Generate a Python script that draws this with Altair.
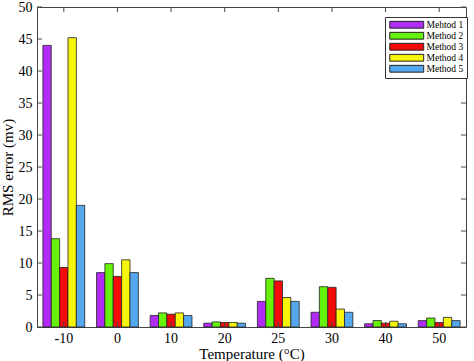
import altair as alt
import pandas as pd

temps = ["-10", "0", "10", "20", "25", "30", "40", "50"]
methods = ["Mehtod 1", "Method 2", "Method 3", "Method 4", "Method 5"]
m1 = [44.0, 8.5, 1.8, 0.6, 4.0, 2.3, 0.5, 1.0]
m2 = [13.8, 9.9, 2.2, 0.8, 7.6, 6.3, 1.0, 1.4]
m3 = [9.3, 7.9, 2.0, 0.7, 7.2, 6.2, 0.6, 0.7]
m4 = [45.2, 10.5, 2.2, 0.7, 4.6, 2.8, 0.9, 1.5]
m5 = [19.0, 8.5, 1.8, 0.6, 4.0, 2.3, 0.5, 1.0]
colors = ["#b12cf7", "#66f20a", "#f50a0a", "#f7f50a", "#55a8ee"]
y_ticks = list(range(0, 51, 5))

rows = []
for m, vals in zip(methods, [m1, m2, m3, m4, m5]):
    for t, v in zip(temps, vals):
        rows.append({"T": t, "Method": m, "v": v})
df = pd.DataFrame(rows)

FONT = "Liberation Serif"

xscale = alt.Scale(domain=temps, paddingInner=0.22, paddingOuter=0.11)
yscale = alt.Scale(domain=[0, 50], nice=False)

bars = alt.Chart(df).mark_bar(stroke="#222222", strokeWidth=0.8).encode(
    x=alt.X("T:N", sort=temps, scale=xscale,
            axis=alt.Axis(title="Temperature (°C)", labelAngle=0, ticks=False,
                          domain=False, labelPadding=4, titlePadding=1)),
    xOffset=alt.XOffset("Method:N", sort=methods, scale=alt.Scale(paddingInner=0, paddingOuter=0)),
    y=alt.Y("v:Q", scale=yscale,
            axis=alt.Axis(title="RMS error (mv)", values=y_ticks, ticks=False, domain=False,
                          grid=False, labelPadding=5, titlePadding=3)),
    color=alt.Color("Method:N", sort=methods,
                    scale=alt.Scale(domain=methods, range=colors),
                    legend=alt.Legend(title=None, orient="none", legendX=348, legendY=10,
                                      fillColor="white", strokeColor="#333333",
                                      padding=3, rowPadding=-2,
                                      symbolType="M-5,-1L5,-1L5,1L-5,1Z",
                                      symbolSize=46, symbolStrokeColor="#222222",
                                      symbolStrokeWidth=1, symbolOpacity=1,
                                      symbolOffset=14,
                                      labelFont=FONT, labelFontSize=9.5, labelColor="black",
                                      labelOffset=15)),
)

ydf = pd.DataFrame({"y": y_ticks})
xdf = pd.DataFrame({"T": temps})

ltick = alt.Chart(ydf).mark_rule(color="#444444", strokeWidth=1).encode(
    y=alt.Y("y:Q", scale=yscale, axis=None), x=alt.value(0), x2=alt.value(5))
rtick = alt.Chart(ydf).mark_rule(color="#444444", strokeWidth=1).encode(
    y=alt.Y("y:Q", scale=yscale, axis=None),
    x=alt.value({"expr": "width - 5"}), x2=alt.value("width"))
ttick = alt.Chart(xdf).mark_rule(color="#444444", strokeWidth=1).encode(
    x=alt.X("T:N", sort=temps, scale=xscale, axis=None), y=alt.value(0), y2=alt.value(5))
btick = alt.Chart(xdf).mark_rule(color="#444444", strokeWidth=1).encode(
    x=alt.X("T:N", sort=temps, scale=xscale, axis=None),
    y=alt.value({"expr": "height - 5"}), y2=alt.value("height"))

chart = alt.layer(bars, ltick, rtick, ttick, btick).resolve_axis(
    x="independent", y="independent"
).properties(
    width=474, height=361, background="white",
    autosize=alt.AutoSizeParams(type="fit", contains="padding"),
    padding={"left": 0, "top": 0, "right": 7, "bottom": 0}
).configure_view(stroke="#444444", strokeWidth=1).configure_axis(
    labelFont=FONT, labelFontSize=14, labelColor="black",
    titleFont=FONT, titleFontSize=15, titleColor="black", titleFontWeight="normal"
)

chart.save("out.html", embed_options={"renderer": "svg", "actions": False})
